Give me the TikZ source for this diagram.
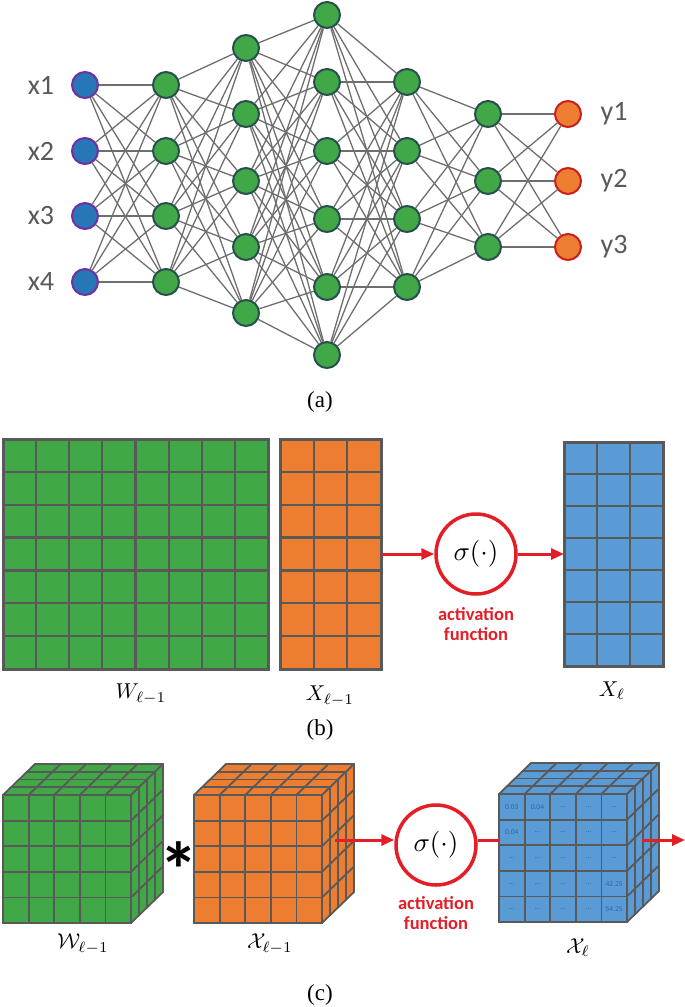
\documentclass[tikz,border=0pt]{standalone}
\usepackage{graphicx}
\usepackage{fontspec}
\newfontfamily\carl{Carlito}
\newfontfamily\tms{Liberation Serif}
\usetikzlibrary{arrows.meta,backgrounds}
\definecolor{ngreen}{RGB}{64,168,70}
\definecolor{nblue}{RGB}{38,118,184}
\definecolor{npurple}{RGB}{112,48,160}
\definecolor{norange}{RGB}{237,125,49}
\definecolor{nred}{RGB}{200,30,30}
\definecolor{nteal}{RGB}{40,78,78}
\definecolor{edgec}{RGB}{110,110,110}
\definecolor{gridc}{RGB}{89,89,89}
\definecolor{cblue}{RGB}{91,155,213}
\definecolor{actred}{RGB}{228,30,38}
\definecolor{lblgray}{RGB}{89,89,89}
\definecolor{celltxt}{RGB}{46,100,170}
\tikzset{
 neuron/.style={circle, minimum size=26pt, inner sep=0pt, line width=2pt},
 inp/.style={neuron, fill=nblue, draw=npurple},
 hid/.style={neuron, fill=ngreen, draw=nteal},
 outp/.style={neuron, fill=norange, draw=nred},
 edge/.style={draw=edgec, line width=1.3pt},
 iolbl/.style={font=\carl\fontsize{28}{30}\selectfont, text=lblgray},
 caption/.style={font=\tms\fontsize{23}{26}\selectfont},
 mlbl/.style={inner sep=0pt},
 gridl/.style={draw=gridc, line width=2.2pt},
 cubel/.style={draw=gridc, line width=1.8pt, line join=round},
 sigc/.style={circle, draw=actred, fill=white, line width=3.5pt, minimum size=80pt, inner sep=0pt},
 actlbl/.style={font=\carl\bfseries\fontsize{18.5}{20}\selectfont, text=actred, align=center},
 redarrow/.style={draw=actred, line width=3pt, -{Triangle[length=13pt,width=11pt]}},
 redline/.style={draw=actred, line width=3pt},
 celltext/.style={font=\carl\fontsize{7.5}{8}\selectfont, text=celltxt, inner sep=0pt},
}
\newcommand\mlabtxt[1]{\scalebox{2.15}{$#1$}}
\newcommand\sigmtxt{\scalebox{2.7}{$\sigma(\cdot)$}}
% matrix: name, x0, y0, x1, y1, cols, rows, fill
\newcommand\gridmat[8]{%
 \node[draw=gridc, line width=3pt, fill=#8, inner sep=0pt, outer sep=0pt,
   minimum width={(#4-#2)*1pt}, minimum height={(#5-#3)*1pt}] (#1) at ({(#2+#4)/2},{(#3+#5)/2}) {};
 \pgfmathtruncatemacro\nca{#6-1}%
 \pgfmathtruncatemacro\nra{#7-1}%
 \foreach \k in {1,...,\nca} \draw[gridl] ({#2+\k*(#4-#2)/#6},#3) -- ({#2+\k*(#4-#2)/#6},#5);
 \foreach \k in {1,...,\nra} \draw[gridl] (#2,{#3+\k*(#5-#3)/#7}) -- (#4,{#3+\k*(#5-#3)/#7});
 \draw[draw=gridc, line width=3pt] (#2,#3) rectangle (#4,#5);
}
% cube: name, x0, y0, fill
\newcommand\gridcube[4]{%
 \pgfmathsetmacro\csz{128}%
 \pgfmathsetmacro\cdx{32}%
 \pgfmathsetmacro\cdy{31}%
 \filldraw[fill=#4, cubel] (#2,#3) -- ++(\csz,0) -- ++(\cdx,-\cdy) -- ++(-\csz,0) -- cycle;
 \foreach \k in {1,2,3} \draw[cubel] ({#2+\k*\cdx/4},{#3-\k*\cdy/4}) -- ++(\csz,0);
 \foreach \j in {1,...,4} \draw[cubel] ({#2+\j*\csz/5},#3) -- ++(\cdx,-\cdy);
 \filldraw[fill=#4, cubel] ({#2+\csz},#3) -- ++(\cdx,-\cdy) -- ++(0,\csz) -- ++(-\cdx,\cdy) -- cycle;
 \foreach \k in {1,2,3} \draw[cubel] ({#2+\csz+\k*\cdx/4},{#3-\k*\cdy/4}) -- ++(0,\csz);
 \foreach \j in {1,...,4} \draw[cubel] ({#2+\csz},{#3+\j*\csz/5}) -- ++(\cdx,-\cdy);
 \node[draw=gridc, line width=2pt, fill=#4, inner sep=0pt, outer sep=0pt,
   minimum width=128pt, minimum height=128pt] (#1) at ({#2+64},{#3+64}) {};
 \foreach \k in {1,...,4} \draw[cubel] ({#2+\k*\csz/5},#3) -- ++(0,\csz);
 \foreach \k in {1,...,4} \draw[cubel] (#2,{#3+\k*\csz/5}) -- ++(\csz,0);
}
\newcommand\ddd{...}
\begin{document}
\begin{tikzpicture}[x=1pt,y=-1pt]
\useasboundingbox (0,0) rectangle (685,1007);
% ---------- (a) network ----------
\foreach \y [count=\i] in {85,151,216,282} \node[inp] (a\i) at (85,\y) {};
\foreach \y [count=\i] in {85,151,216,282} \node[hid] (b\i) at (166,\y) {};
\foreach \y [count=\i] in {48,114,181,247,313} \node[hid] (c\i) at (246,\y) {};
\foreach \y [count=\i] in {15,82,151,219,287,355} \node[hid] (d\i) at (327,\y) {};
\foreach \y [count=\i] in {82,151,219,287} \node[hid] (e\i) at (407,\y) {};
\foreach \y [count=\i] in {114,181,247} \node[hid] (f\i) at (488,\y) {};
\foreach \y [count=\i] in {114,181,247} \node[outp] (g\i) at (568,\y) {};
\begin{scope}[on background layer]
\foreach \i in {1,...,4} \foreach \j in {1,...,4} \draw[edge] (a\i) -- (b\j);
\foreach \i in {1,...,4} \foreach \j in {1,...,5} \draw[edge] (b\i) -- (c\j);
\foreach \i in {1,...,5} \foreach \j in {1,...,6} \draw[edge] (c\i) -- (d\j);
\foreach \i in {1,...,6} \foreach \j in {1,...,4} \draw[edge] (d\i) -- (e\j);
\foreach \i in {1,...,4} \foreach \j in {1,...,3} \draw[edge] (e\i) -- (f\j);
\foreach \i in {1,...,3} \foreach \j in {1,...,3} \draw[edge] (f\i) -- (g\j);
\end{scope}
\foreach \y [count=\i] in {85,151,216,282} \node[iolbl] (lx\i) at (41,\y) {x\i};
\foreach \y [count=\i] in {114,181,247} \node[iolbl] (ly\i) at (614,\y) {y\i};
\node[caption] (capa) at (320,402) {(a)};
% ---------- (b) ----------
\gridmat{Wb}{3}{439}{268}{669}{8}{7}{ngreen}
\gridmat{Xb}{280}{439}{381}{669}{3}{7}{norange}
\gridmat{Yb}{564}{442}{663}{666}{3}{7}{cblue}
\node[sigc] (sb) at (476,554) {\sigmtxt};
\draw[redarrow] (Xb.east) -- (sb);
\draw[redarrow] (sb) -- (Yb.west);
\node[actlbl] (ab) at (476,624) {activation\\function};
\node[mlbl] (lWb) at (141,694) {\mlabtxt{W_{\ell-1}}};
\node[mlbl] (lXb) at (330,696) {\mlabtxt{X_{\ell-1}}};
\node[mlbl] (lYb) at (612,691) {\mlabtxt{X_{\ell}}};
\node[caption] (capb) at (320,730) {(b)};
% ---------- (c) ----------
\gridcube{Wc}{3}{795}{ngreen}
\node[font=\carl\bfseries\fontsize{78}{78}\selectfont, inner sep=0pt, anchor=base] (star) at (179,897) {*};
\gridcube{Xc}{194}{795}{norange}
\gridcube{Yc}{499}{794}{cblue}
\foreach \t [count=\i from 0] in {0.03,0.04,\ddd,\ddd,\ddd,
  0.04,\ddd,\ddd,\ddd,\ddd,
  \ddd,\ddd,\ddd,\ddd,\ddd,
  \ddd,\ddd,\ddd,\ddd,42.25,
  \ddd,\ddd,\ddd,\ddd,54.25}{
  \pgfmathtruncatemacro\rr{floor(\i/5)}
  \pgfmathtruncatemacro\cc{mod(\i,5)}
  \node[celltext] (t\i) at ({499+12.8+25.6*\cc},{794+12.8+25.6*\rr}) {\t};
}
\node[sigc] (sc) at (436,845) {\sigmtxt};
\coordinate (ca) at (335,840);
\draw[redarrow] (ca) -- (ca -| sc.west);
\draw[redline] (sc.east |- ca) -- (ca -| Yc.west);
\coordinate (cb) at (642,840);
\coordinate (cend) at (685,840);
\draw[redarrow] (cb) -- (cend);
\node[actlbl] (ac) at (436,913) {activation\\function};
\node[mlbl] (lWc) at (83,944) {\mlabtxt{\mathcal{W}_{\ell-1}}};
\node[mlbl] (lXc) at (270,944) {\mlabtxt{\mathcal{X}_{\ell-1}}};
\node[mlbl] (lYc) at (578,948) {\mlabtxt{\mathcal{X}_{\ell}}};
\node[caption] (capc) at (320,995) {(c)};
\end{tikzpicture}
\end{document}
